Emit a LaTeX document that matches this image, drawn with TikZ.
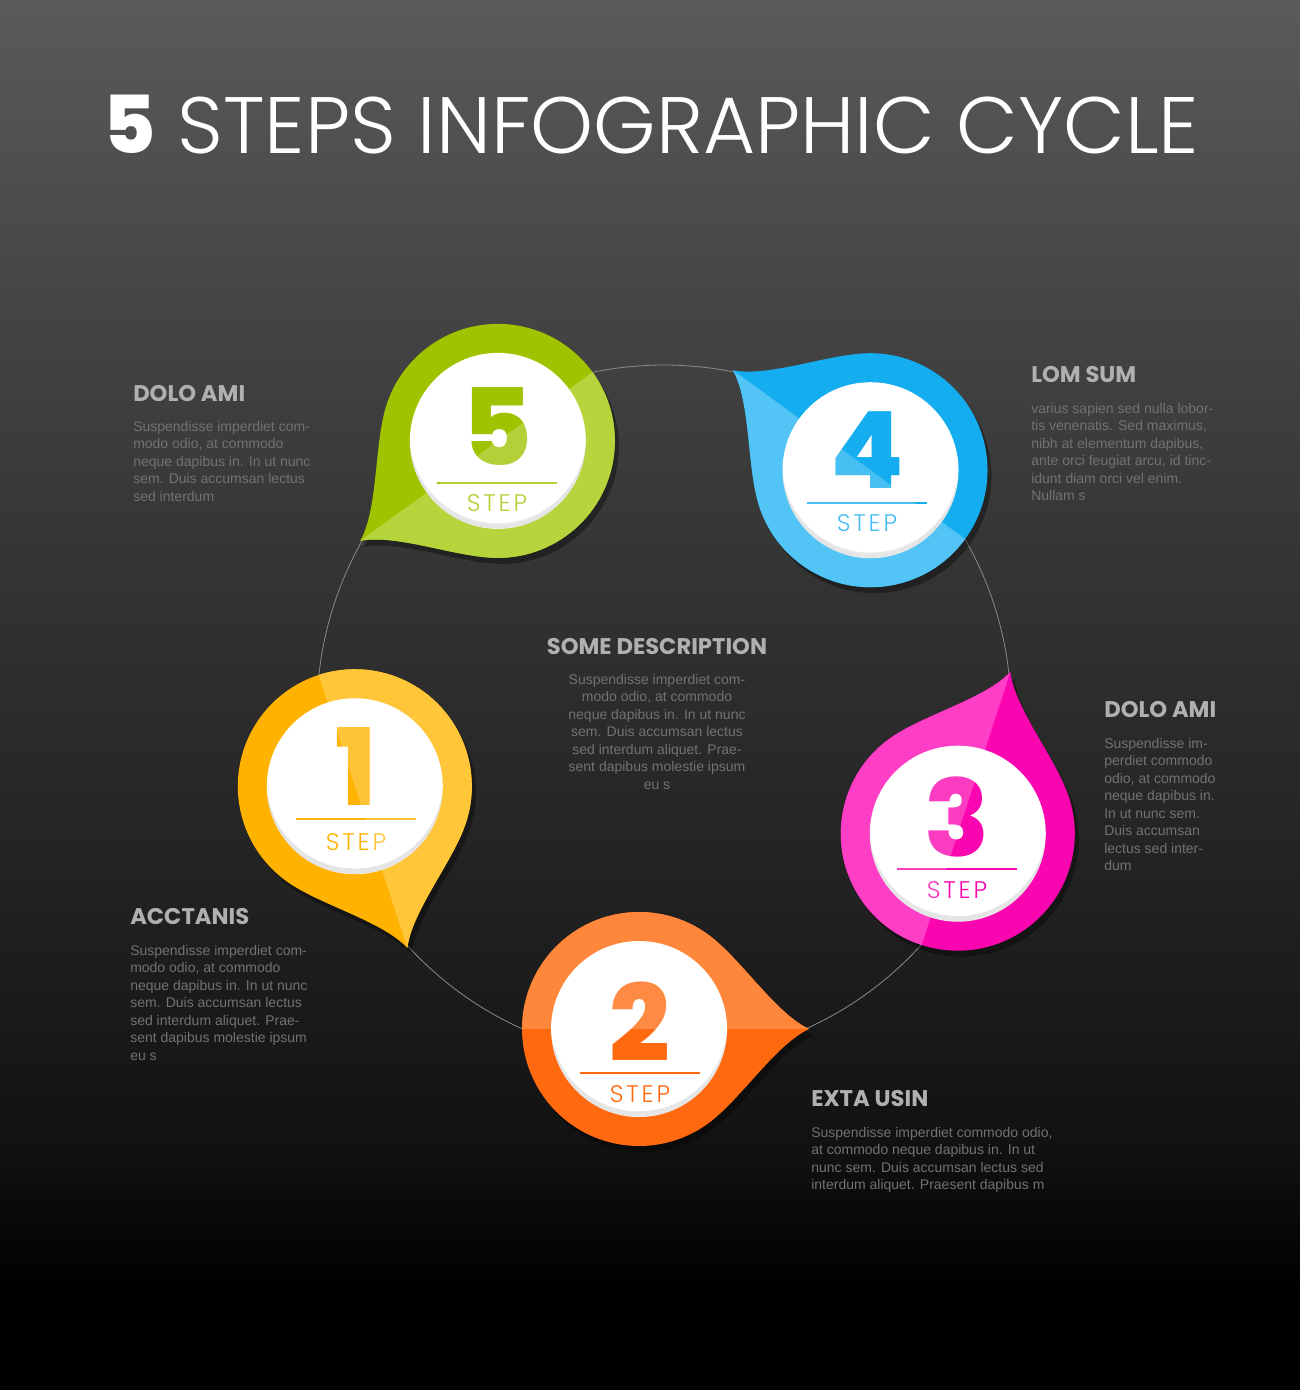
\documentclass[tikz,border=0pt]{standalone}
\usepackage{fontspec}
\setmainfont{Liberation Sans}
\newfontfamily\popb{Poppins}
\newfontfamily\popk{Poppins ExtraBold}
\newfontfamily\popl{Poppins Light}
\newfontfamily\popstep{Poppins Light}[LetterSpace=12]
\definecolor{bgA}{HTML}{5A5A5A}
\definecolor{bgB}{HTML}{454545}
\definecolor{bgC}{HTML}{323232}
\definecolor{bgD}{HTML}{212121}
\definecolor{bgE}{HTML}{111111}
\definecolor{headgray}{HTML}{B0B0B0}
\definecolor{bodygray}{HTML}{727272}
\definecolor{ringgray}{HTML}{8A8A8A}
\definecolor{grn}{HTML}{A0C300}
\definecolor{grnL}{HTML}{B6D43C}
\definecolor{blu}{HTML}{14ADEF}
\definecolor{bluL}{HTML}{52C4F5}
\definecolor{mag}{HTML}{FA06B0}
\definecolor{magL}{HTML}{FF3EC6}
\definecolor{org}{HTML}{FF6A10}
\definecolor{orgL}{HTML}{FF873C}
\definecolor{yel}{HTML}{FFB300}
\definecolor{yelL}{HTML}{FFC63A}
\pgfdeclareverticalshading{bgshade}{100bp}{color(0bp)=(black); color(25bp)=(black); color(28.6bp)=(black); color(33.6bp)=(bgE); color(42.6bp)=(bgD); color(53.4bp)=(bgC); color(64.2bp)=(bgB); color(75bp)=(bgA); color(100bp)=(bgA)}
\tikzset{
  head/.style={font=\popb\bfseries\fontsize{17}{20}\selectfont, text=headgray, inner sep=0},
  body/.style={font=\fontsize{10.5}{13.1}\selectfont, text=bodygray, inner sep=0},
  numtxt/.style={font=\popk\fontsize{80}{80}\selectfont, inner sep=0, anchor=center},
  steptxt/.style={font=\popstep\fontsize{18}{18}\selectfont, inner sep=0, anchor=center},
  ringline/.style={draw=ringgray, line width=0.6pt},
}
\newcommand\pinshape{(170,0) .. controls (138,15) and (106,64) .. (50:117) arc[start angle=50,end angle=310,radius=117] .. controls (106,-64) and (138,-15) .. cycle}
% #1 position angle, #2 base, #3 light, #4 number, #5 x, #6 number y, #7 line y, #8 step y
\newcommand\drawpin[8]{%
  \begin{scope}[shift={(664,-712)},shift={(#1:318)},shift={(4,-6)},rotate=#1+94.5]
    \fill[black,opacity=.35] \pinshape;
  \end{scope}
  \begin{scope}[shift={(664,-712)},shift={(#1:318)},rotate=#1+94.5]
    \fill[#2] \pinshape;
    \begin{scope}\clip \pinshape; \fill[#3] (-220,0) rectangle (220,220);\end{scope}
  \end{scope}
  \begin{scope}[shift={(664,-712)},shift={(#1:318)}]
    \fill[white] (0,0) circle[radius=88];
    \begin{scope}\clip (0,0) circle[radius=88];
      \draw[black,opacity=.10,line width=4pt] (0,6) circle[radius=91];
    \end{scope}
  \end{scope}
  \node[numtxt,text=#2] (num#4) at (#5,-#6) {#4};
  \draw[#2,line width=1.5pt] (#5-60,-#7) -- (#5+60,-#7);
  \node[steptxt,text=#2] (step#4) at (#5,-#8) {STEP};
  \begin{scope}[shift={(664,-712)},shift={(#1:318)},rotate=#1+94.5]
    \clip (0,0) circle[radius=84];
    \fill[white,opacity=.22] (-220,0) rectangle (220,220);
  \end{scope}
}
\begin{document}
\begin{tikzpicture}[x=0.75pt,y=0.75pt]
\useasboundingbox (0,0) rectangle (1300,-1390);
\shade[shading=bgshade] (0,0) rectangle (1300,-1390);
% title
\node[anchor=base west, inner sep=0, text=white] (title) at (103,-153)
  {\fontsize{60}{60}\selectfont{\popk 5}\popl\mdseries\ STEPS INFOGRAPHIC CYCLE};
% ring
\draw[ringline] (664,-712) circle[radius=347];
% pins
\drawpin{121.5}{grn}{grnL}{5}{497}{427}{483}{503}
\drawpin{49.5}{blu}{bluL}{4}{867}{450}{503}{523}
\drawpin{337.5}{mag}{magL}{3}{957}{817}{869}{890}
\drawpin{265.5}{org}{orgL}{2}{640}{1022}{1073}{1094}
\drawpin{193.5}{yel}{yelL}{1}{356}{767}{819}{842}
% texts
\node[head, anchor=base west] (h5) at (133,-401) {DOLO AMI};
\node[body, anchor=north west, align=left] (b5) at (133,-421) {Suspendisse imperdiet com-\\modo odio, at commodo\\neque dapibus in. In ut nunc\\sem. Duis accumsan lectus\\sed interdum};
\node[head, anchor=base west] (h4) at (1031,-382) {LOM SUM};
\node[body, anchor=north west, align=left] (b4) at (1031,-403) {varius sapien sed nulla lobor-\\tis venenatis. Sed maximus,\\nibh at elementum dapibus,\\ante orci feugiat arcu, id tinc-\\idunt diam orci vel enim.\\Nullam s};
\node[head, anchor=base] (hc) at (657,-654) {SOME DESCRIPTION};
\node[body, anchor=north, align=center] (bc) at (657,-674) {Suspendisse imperdiet com-\\modo odio, at commodo\\neque dapibus in. In ut nunc\\sem. Duis accumsan lectus\\sed interdum aliquet. Prae-\\sent dapibus molestie ipsum\\eu s};
\node[head, anchor=base west] (h3) at (1104,-717) {DOLO AMI};
\node[body, anchor=north west, align=left] (b3) at (1104,-738) {Suspendisse im-\\perdiet commodo\\odio, at commodo\\neque dapibus in.\\In ut nunc sem.\\Duis accumsan\\lectus sed inter-\\dum};
\node[head, anchor=base west] (h1) at (130,-924) {ACCTANIS};
\node[body, anchor=north west, align=left] (b1) at (130,-945) {Suspendisse imperdiet com-\\modo odio, at commodo\\neque dapibus in. In ut nunc\\sem. Duis accumsan lectus\\sed interdum aliquet. Prae-\\sent dapibus molestie ipsum\\eu s};
\node[head, anchor=base west] (h2) at (811,-1106) {EXTA USIN};
\node[body, anchor=north west, align=left] (b2) at (811,-1127) {Suspendisse imperdiet commodo odio,\\at commodo neque dapibus in. In ut\\nunc sem. Duis accumsan lectus sed\\interdum aliquet. Praesent dapibus m};
\end{tikzpicture}
\end{document}
